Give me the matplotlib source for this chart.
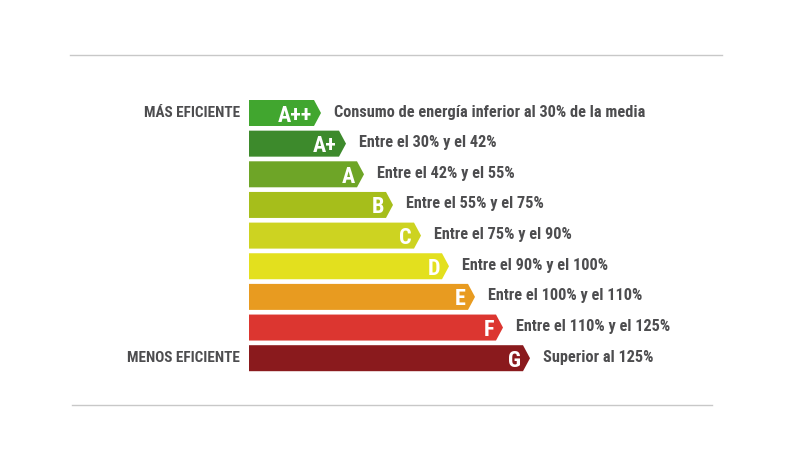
import matplotlib.pyplot as plt
from matplotlib.patches import Polygon
from matplotlib import font_manager
from matplotlib.font_manager import FontProperties

# energy classes, top to bottom
classes = ['A++', 'A+', 'A', 'B', 'C', 'D', 'E', 'F', 'G']
descriptions = [
    'Consumo de energía inferior al 30% de la media',
    'Entre el 30% y el 42%',
    'Entre el 42% y el 55%',
    'Entre el 55% y el 75%',
    'Entre el 75% y el 90%',
    'Entre el 90% y el 100%',
    'Entre el 100% y el 110%',
    'Entre el 110% y el 125%',
    'Superior al 125%',
]
# arrow length (tip) per class
lengths = [72, 97, 115, 144, 172, 200, 226, 254, 281]
colors = ['#41a62f', '#3d8a2c', '#6ea527', '#a6be1b', '#cdd321',
          '#e3e01e', '#e89b20', '#dc3630', '#8a1a1d']
side_labels = {0: 'MÁS EFICIENTE', 8: 'MENOS EFICIENTE'}


def pick_font():
    # look for a bold condensed face, fall back to plain bold
    cands = []
    for f in font_manager.fontManager.ttflist:
        name = f.name + ' ' + f.fname
        narrow = ('Condensed' in name or 'Narrow' in name or
                  str(f.stretch) in ('condensed', 'semi-condensed', '75', '87'))
        bold = f.weight in ('bold', 700, 'semibold', 600) or 'Bold' in f.fname
        if narrow and bold and 'Oblique' not in f.fname and 'Italic' not in f.fname:
            cands.append(f)
    order = ['Roboto', 'Open Sans', 'Liberation', 'Noto Sans', 'DejaVu']
    for key in order:
        for f in cands:
            if f.name.startswith(key):
                return FontProperties(fname=f.fname)
    if cands:
        return FontProperties(fname=cands[0].fname)
    return FontProperties(family='DejaVu Sans', weight='bold')


fp = pick_font()

fig = plt.figure(figsize=(8, 4.64), dpi=100)
ax = fig.add_axes([0, 0, 1, 1])
ax.set_xlim(0, 800)
ax.set_ylim(464, 0)
ax.axis('off')
renderer = fig.canvas.get_renderer()


def fit_size(text, target_px, start=12):
    t = ax.text(0, 0, text, fontproperties=fp, fontsize=start)
    w = t.get_window_extent(renderer).width
    t.remove()
    return start * target_px / w


desc_size = fit_size(descriptions[0], 309)
cls_size = fit_size('A++', 34)
side_size = fit_size('MENOS EFICIENTE', 113)

x0 = 249
top = 101
pitch = 30.65
h = 26
tip = 7
txt_col = '#4d4d4f'

for i, (cls, desc, L, c) in enumerate(zip(classes, descriptions, lengths, colors)):
    y0 = top + i * pitch
    yc = y0 + h / 2
    end = x0 + L
    poly = Polygon([(x0, y0), (end - tip, y0), (end, yc), (end - tip, y0 + h), (x0, y0 + h)],
                   closed=True, facecolor=c, edgecolor='none')
    ax.add_patch(poly)
    ax.text(end - tip - 2, yc + 1.5, cls, color='white', fontproperties=fp, fontsize=cls_size,
            ha='right', va='center')
    ax.text(end + 13, yc - 2, desc, color=txt_col, fontproperties=fp, fontsize=desc_size,
            ha='left', va='center')
    if i in side_labels:
        ax.text(240, yc - 1, side_labels[i], color=txt_col, fontproperties=fp,
                fontsize=side_size, ha='right', va='center')

# thin separator lines
ax.plot([70, 722], [56, 56], color='#c8c8c8', lw=1)
ax.plot([72, 712], [406, 406], color='#c8c8c8', lw=1)

fig.savefig('out.png', dpi=100, facecolor='white')
